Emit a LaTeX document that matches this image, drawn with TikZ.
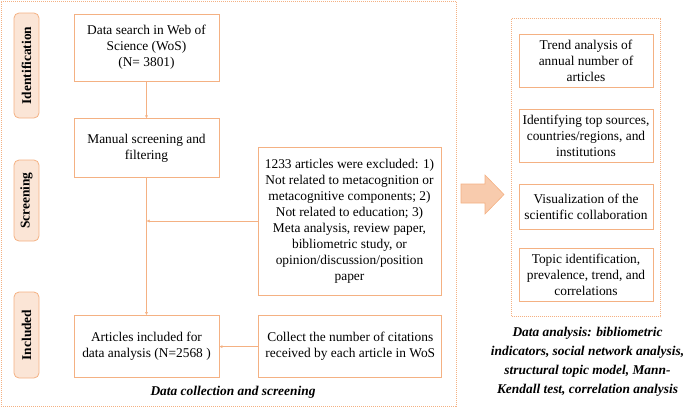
\documentclass[tikz,border=0pt]{standalone}
\usepackage{fontspec}
\setmainfont{Liberation Serif}
\usetikzlibrary{arrows.meta,positioning,fit,calc}

\definecolor{peachline}{HTML}{F4B183}
\definecolor{peachfill}{HTML}{FBE5D6}
\definecolor{peacharrow}{HTML}{F8CBAD}

\begin{document}
\begin{tikzpicture}[
  x=1pt, y=-1pt,
  font=\fontsize{13.4}{16}\selectfont,
  >=Latex,
  arrow/.style={-{Latex[length=3pt,width=3pt]}, line width=0.5pt, draw=peachline},
  source/.style={draw=peachline, line width=0.8pt, fill=white, align=center, inner sep=2pt},
  flow/.style={source, minimum width=145pt},
  analysis/.style={source, minimum width=134pt},
  stage/.style={draw=peachline, fill=peachfill, line width=0.8pt, rounded corners=5pt,
    rotate=90, minimum height=25pt, inner sep=0pt, font=\fontsize{13.4}{16}\selectfont\bfseries},
  group/.style={draw=peachline, line width=1pt, dash pattern=on 1pt off 1pt},
  caption/.style={font=\fontsize{13.4}{19}\selectfont\bfseries\itshape, align=center}
]
\useasboundingbox (0,0) rectangle (685,408);

\node[group, minimum width=455pt, minimum height=405pt, inner sep=0pt] (collection) at (228.5,203.5) {};

\node[stage, minimum width=105pt] (identification) at (26.5,65.5) {Identification};
\node[stage, minimum width=81pt] (screening) at (26.5,200.5) {Screening};
\node[stage, minimum width=86pt] (includedstage) at (26.5,335) {Included};

\node[flow, minimum height=67pt] (search) at (146.5,47.5) {Data search in Web of\\
Science (WoS)\\(N= 3801)};
\node[flow, minimum height=59pt, below=37pt of search] (screen) {Manual screening and\\
filtering};
\node[flow, minimum height=62pt, below=137pt of screen] (included) {Articles included for\\
data analysis (N=2568 )};
\node[source, minimum width=183pt, minimum height=148pt] (excluded) at (349.5,221) {1233 articles were excluded: 1)\\
Not related to metacognition or\\metacognitive components; 2)\\Not related to education; 3)\\
Meta analysis, review paper,\\bibliometric study, or\\opinion/discussion/position\\paper};
\node[source, minimum width=183pt, minimum height=62pt, right=39pt of included] (citations) {Collect the number of citations\\
received by each article in WoS};
\node[caption] (collectcap) at (233,392) {Data collection and screening};

\draw[arrow] (search) -- (screen);
\draw[arrow] (screen) -- (included);
\draw[arrow] (excluded.west) -- (excluded.west -| screen.south);
\draw[arrow] (citations) -- (included);

% block arrow between the two parts
\filldraw[draw=peachline, fill=peacharrow, line width=0.6pt]
  (461,184) -- (485,184) -- (485,175) -- (504,194.5) -- (485,214) -- (485,203) -- (461,203) -- cycle;

\node[analysis, minimum height=53pt] (trend) at (586,60.5) {Trend analysis of\\
annual number of\\articles};
\node[analysis, minimum height=53pt, below=22pt of trend] (sources) {Identifying top sources,\\
countries/regions, and\\institutions};
\node[analysis, minimum height=45pt, below=21pt of sources] (collab) {Visualization of the\\
scientific collaboration};
\node[analysis, minimum height=53pt, below=18pt of collab] (topics) {Topic identification,\\
prevalence, trend, and\\correlations};
\node[group, fit=(trend)(topics), inner xsep=7pt, inner ysep=15pt] (analysisgroup) {};
\node[caption] (analysiscap) at (587.5,361.5) {Data analysis: bibliometric\\
indicators, social network analysis,\\structural topic model, Mann-\\Kendall test, correlation analysis};

\end{tikzpicture}
\end{document}
